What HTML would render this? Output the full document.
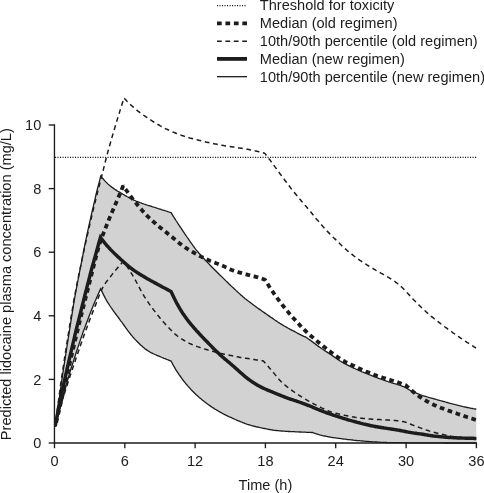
<!DOCTYPE html>
<html><head><meta charset="utf-8"><title>Predicted lidocaine plasma concentration</title>
<style>html,body{margin:0;padding:0;background:#fff}svg{display:block}text{font-family:"Liberation Sans",Arial,Helvetica,sans-serif;fill:#1c1c1c}</style></head><body>
<svg width="484" height="493" viewBox="0 0 484 493">
<rect width="484" height="493" fill="#fff"/>
<path d="M55.2,426.3 L56.2,419.3 L57.2,412.3 L58.2,405.4 L59.2,398.6 L60.2,391.8 L61.1,385.0 L62.1,378.3 L63.1,371.7 L64.1,365.1 L65.1,358.6 L66.1,352.1 L67.1,345.7 L68.1,339.3 L69.1,332.9 L70.1,326.5 L71.1,320.1 L72.1,313.9 L73.0,307.8 L74.0,301.8 L75.0,296.2 L76.0,290.6 L77.0,285.3 L78.0,280.0 L79.0,274.8 L80.0,269.7 L81.0,264.6 L82.0,259.6 L83.0,254.5 L83.9,249.6 L84.9,244.7 L85.9,239.9 L86.9,235.1 L87.9,230.4 L88.9,225.8 L89.9,221.3 L90.9,216.8 L91.9,212.4 L92.9,208.1 L93.9,203.8 L94.9,199.7 L95.8,195.5 L96.8,191.5 L97.8,187.5 L98.8,183.6 L99.8,179.8 L100.8,176.0 L101.8,177.3 L102.8,178.5 L103.8,179.7 L104.8,180.9 L105.8,181.9 L106.8,182.9 L107.8,183.9 L108.8,184.8 L109.8,185.6 L110.8,186.4 L111.8,187.1 L112.8,187.9 L113.8,188.6 L114.8,189.3 L115.8,189.9 L116.8,190.6 L117.8,191.2 L118.9,191.8 L119.9,192.4 L120.9,193.0 L121.9,193.6 L122.9,194.2 L123.9,194.8 L124.9,195.4 L125.9,195.9 L126.9,196.5 L127.9,197.0 L128.9,197.6 L129.9,198.1 L130.9,198.6 L131.9,199.1 L132.9,199.6 L133.9,200.1 L134.9,200.5 L135.9,201.0 L136.9,201.4 L137.9,201.8 L138.9,202.2 L139.9,202.6 L140.9,202.9 L141.9,203.3 L142.9,203.6 L143.9,204.0 L144.9,204.3 L145.9,204.6 L146.9,205.0 L147.9,205.3 L148.9,205.6 L149.9,205.9 L150.9,206.2 L151.9,206.6 L152.9,206.9 L154.0,207.2 L155.0,207.5 L156.0,207.8 L157.0,208.2 L158.0,208.5 L159.0,208.8 L160.0,209.1 L161.0,209.4 L162.0,209.8 L163.0,210.1 L164.0,210.4 L165.0,210.7 L166.0,211.0 L167.0,211.3 L168.0,211.7 L169.0,212.0 L170.0,212.3 L171.0,212.6 L172.0,214.2 L173.0,215.8 L174.0,217.4 L175.0,218.9 L176.0,220.5 L177.0,222.0 L178.0,223.6 L179.0,225.1 L180.0,226.6 L181.0,228.1 L182.0,229.6 L183.0,231.1 L184.0,232.6 L185.0,234.1 L186.0,235.5 L187.0,237.0 L188.0,238.5 L189.0,239.9 L190.0,241.4 L191.0,242.8 L192.0,244.2 L193.0,245.6 L194.0,246.9 L195.0,248.3 L196.0,249.6 L197.0,250.8 L198.0,252.0 L199.0,253.2 L200.0,254.3 L201.0,255.5 L202.0,256.6 L203.0,257.6 L204.0,258.7 L204.9,259.8 L205.9,260.8 L206.9,261.9 L207.9,262.9 L208.9,263.9 L209.9,265.0 L210.9,266.0 L211.9,267.0 L212.9,268.0 L213.9,269.0 L214.9,270.0 L215.9,271.0 L216.9,272.0 L217.9,273.0 L218.9,274.0 L219.9,275.0 L220.9,275.9 L221.9,276.9 L222.9,277.9 L223.9,278.9 L224.9,279.9 L225.9,280.9 L226.9,281.8 L227.9,282.8 L228.9,283.8 L229.9,284.7 L230.9,285.7 L231.9,286.6 L232.9,287.6 L233.9,288.5 L234.9,289.4 L235.9,290.4 L236.9,291.3 L237.9,292.2 L238.9,293.1 L239.9,294.1 L240.9,294.9 L241.9,295.8 L242.9,296.7 L243.9,297.5 L244.9,298.4 L245.9,299.2 L246.9,300.0 L247.9,300.8 L248.9,301.5 L249.9,302.3 L250.9,303.1 L251.9,303.8 L252.9,304.5 L253.9,305.3 L254.9,306.0 L255.9,306.7 L256.9,307.5 L257.9,308.2 L258.9,308.9 L259.9,309.6 L260.9,310.3 L261.9,311.0 L262.9,311.7 L263.9,312.4 L264.9,313.1 L265.9,313.8 L266.9,314.5 L267.9,315.2 L268.9,315.9 L269.9,316.6 L270.9,317.3 L271.9,317.9 L272.9,318.6 L273.8,319.3 L274.8,320.0 L275.8,320.6 L276.8,321.3 L277.8,322.0 L278.8,322.6 L279.8,323.3 L280.8,323.9 L281.8,324.5 L282.8,325.1 L283.8,325.7 L284.8,326.3 L285.8,326.8 L286.8,327.4 L287.8,328.0 L288.8,328.5 L289.8,329.1 L290.8,329.6 L291.8,330.1 L292.8,330.7 L293.8,331.2 L294.8,331.7 L295.8,332.2 L296.8,332.8 L297.8,333.3 L298.8,333.8 L299.8,334.3 L300.8,334.8 L301.8,335.3 L302.8,335.8 L303.8,336.3 L304.8,336.7 L305.8,337.2 L306.8,337.7 L307.8,338.4 L308.8,339.2 L309.8,339.9 L310.8,340.6 L311.8,341.4 L312.8,342.1 L313.8,342.9 L314.8,343.6 L315.8,344.4 L316.8,345.1 L317.8,345.9 L318.8,346.6 L319.8,347.3 L320.8,348.0 L321.8,348.7 L322.8,349.3 L323.8,350.0 L324.7,350.6 L325.7,351.3 L326.7,351.9 L327.7,352.6 L328.7,353.2 L329.7,353.9 L330.7,354.5 L331.7,355.2 L332.7,355.9 L333.7,356.6 L334.7,357.3 L335.7,358.0 L336.7,358.7 L337.7,359.4 L338.7,360.0 L339.7,360.7 L340.7,361.3 L341.7,362.0 L342.7,362.5 L343.7,363.1 L344.7,363.6 L345.7,364.1 L346.7,364.7 L347.7,365.2 L348.7,365.7 L349.7,366.2 L350.7,366.7 L351.7,367.1 L352.7,367.6 L353.7,368.1 L354.7,368.5 L355.7,369.0 L356.7,369.4 L357.7,369.8 L358.6,370.3 L359.6,370.7 L360.6,371.1 L361.6,371.6 L362.6,372.0 L363.6,372.4 L364.6,372.8 L365.6,373.2 L366.6,373.6 L367.6,374.0 L368.6,374.5 L369.6,374.9 L370.6,375.2 L371.6,375.6 L372.6,376.0 L373.6,376.4 L374.6,376.8 L375.6,377.2 L376.6,377.5 L377.6,377.9 L378.6,378.3 L379.6,378.6 L380.6,379.0 L381.6,379.4 L382.6,379.7 L383.6,380.1 L384.6,380.4 L385.6,380.8 L386.6,381.1 L387.6,381.5 L388.6,381.8 L389.6,382.2 L390.6,382.5 L391.6,382.8 L392.5,383.1 L393.5,383.4 L394.5,383.7 L395.5,383.9 L396.5,384.2 L397.5,384.6 L398.5,384.9 L399.5,385.2 L400.5,385.5 L401.5,385.9 L402.5,386.3 L403.5,386.7 L404.5,387.1 L405.5,387.6 L406.5,388.2 L407.5,388.8 L408.5,389.4 L409.5,390.0 L410.5,390.5 L411.5,391.0 L412.5,391.5 L413.5,391.9 L414.5,392.4 L415.5,392.8 L416.5,393.2 L417.5,393.6 L418.5,394.0 L419.5,394.4 L420.5,394.8 L421.5,395.1 L422.5,395.5 L423.5,395.8 L424.5,396.1 L425.5,396.4 L426.4,396.7 L427.4,397.0 L428.4,397.3 L429.4,397.6 L430.4,397.8 L431.4,398.1 L432.4,398.4 L433.4,398.7 L434.4,399.0 L435.4,399.2 L436.4,399.5 L437.4,399.8 L438.4,400.1 L439.4,400.4 L440.4,400.7 L441.4,400.9 L442.4,401.2 L443.4,401.5 L444.4,401.7 L445.4,402.0 L446.4,402.3 L447.4,402.5 L448.4,402.8 L449.4,403.1 L450.4,403.3 L451.4,403.6 L452.4,403.8 L453.4,404.1 L454.4,404.3 L455.4,404.6 L456.4,404.8 L457.4,405.1 L458.4,405.3 L459.4,405.6 L460.3,405.8 L461.3,406.1 L462.3,406.3 L463.3,406.6 L464.3,406.8 L465.3,407.0 L466.3,407.3 L467.3,407.5 L468.3,407.7 L469.3,407.9 L470.3,408.1 L471.3,408.3 L472.3,408.5 L473.3,408.7 L474.3,408.8 L475.3,409.0 L476.3,409.2 L476.3,443.0 L475.3,443.0 L474.3,443.0 L473.3,443.0 L472.3,443.0 L471.3,443.0 L470.3,443.0 L469.3,443.0 L468.3,443.0 L467.3,443.0 L466.3,443.0 L465.3,443.0 L464.3,443.0 L463.3,443.0 L462.3,443.0 L461.3,443.0 L460.3,443.0 L459.3,443.0 L458.3,443.0 L457.3,443.0 L456.3,443.0 L455.3,443.0 L454.3,443.0 L453.3,443.0 L452.3,443.0 L451.3,443.0 L450.3,443.0 L449.3,443.0 L448.3,443.0 L447.3,443.0 L446.3,443.0 L445.3,443.0 L444.3,443.0 L443.3,442.9 L442.3,442.9 L441.3,442.9 L440.3,442.9 L439.3,442.9 L438.3,442.9 L437.3,442.9 L436.3,442.9 L435.4,442.9 L434.4,442.9 L433.4,442.9 L432.4,442.9 L431.4,442.9 L430.4,442.9 L429.4,442.9 L428.4,442.9 L427.4,442.9 L426.4,442.9 L425.4,442.9 L424.4,442.9 L423.4,442.9 L422.4,442.9 L421.4,442.9 L420.4,442.8 L419.4,442.8 L418.4,442.8 L417.4,442.8 L416.4,442.8 L415.4,442.8 L414.4,442.8 L413.4,442.8 L412.4,442.8 L411.4,442.8 L410.4,442.8 L409.4,442.8 L408.4,442.8 L407.4,442.8 L406.4,442.7 L405.4,442.7 L404.4,442.7 L403.4,442.7 L402.4,442.7 L401.4,442.7 L400.4,442.7 L399.4,442.7 L398.4,442.7 L397.4,442.7 L396.4,442.7 L395.4,442.7 L394.4,442.6 L393.4,442.6 L392.4,442.6 L391.4,442.6 L390.4,442.6 L389.4,442.6 L388.4,442.6 L387.4,442.6 L386.4,442.5 L385.4,442.5 L384.4,442.4 L383.4,442.4 L382.4,442.4 L381.4,442.3 L380.4,442.3 L379.4,442.2 L378.4,442.1 L377.4,442.1 L376.4,442.0 L375.4,442.0 L374.4,441.9 L373.4,441.9 L372.4,441.8 L371.4,441.7 L370.4,441.7 L369.4,441.6 L368.4,441.5 L367.4,441.4 L366.4,441.3 L365.4,441.3 L364.4,441.2 L363.4,441.1 L362.4,441.0 L361.4,440.9 L360.4,440.8 L359.4,440.7 L358.4,440.7 L357.4,440.6 L356.4,440.5 L355.4,440.4 L354.4,440.3 L353.4,440.2 L352.5,440.0 L351.5,439.9 L350.5,439.8 L349.5,439.7 L348.5,439.6 L347.5,439.5 L346.5,439.3 L345.5,439.2 L344.5,439.1 L343.5,439.0 L342.5,438.8 L341.5,438.7 L340.5,438.6 L339.5,438.4 L338.5,438.3 L337.5,438.2 L336.5,438.1 L335.5,437.9 L334.5,437.8 L333.5,437.6 L332.5,437.5 L331.5,437.3 L330.5,437.2 L329.5,437.0 L328.5,436.8 L327.5,436.6 L326.5,436.4 L325.5,436.2 L324.5,436.0 L323.5,435.8 L322.5,435.6 L321.5,435.3 L320.5,435.1 L319.5,434.8 L318.5,434.5 L317.5,434.2 L316.5,433.9 L315.5,433.6 L314.5,433.2 L313.5,432.9 L312.5,432.5 L311.5,432.5 L310.5,432.4 L309.5,432.4 L308.5,432.3 L307.5,432.3 L306.5,432.3 L305.5,432.2 L304.5,432.2 L303.5,432.1 L302.5,432.1 L301.5,432.1 L300.5,432.0 L299.5,432.0 L298.5,431.9 L297.5,431.9 L296.5,431.8 L295.5,431.8 L294.4,431.7 L293.4,431.7 L292.4,431.7 L291.4,431.6 L290.4,431.6 L289.4,431.5 L288.4,431.5 L287.4,431.4 L286.4,431.3 L285.4,431.3 L284.4,431.2 L283.4,431.1 L282.4,431.1 L281.4,431.0 L280.4,430.9 L279.4,430.8 L278.4,430.7 L277.4,430.6 L276.4,430.5 L275.4,430.4 L274.4,430.3 L273.4,430.2 L272.4,430.0 L271.4,429.9 L270.4,429.7 L269.4,429.5 L268.4,429.3 L267.4,429.1 L266.4,428.9 L265.4,428.7 L264.4,428.5 L263.4,428.3 L262.4,428.1 L261.4,427.9 L260.4,427.7 L259.3,427.4 L258.3,427.2 L257.3,427.0 L256.3,426.8 L255.3,426.5 L254.3,426.3 L253.3,426.0 L252.3,425.8 L251.3,425.5 L250.3,425.2 L249.3,424.9 L248.3,424.6 L247.3,424.3 L246.3,423.9 L245.3,423.6 L244.3,423.2 L243.3,422.8 L242.3,422.4 L241.3,422.0 L240.3,421.6 L239.3,421.2 L238.3,420.8 L237.3,420.4 L236.3,419.9 L235.3,419.5 L234.3,419.0 L233.3,418.6 L232.3,418.2 L231.3,417.7 L230.3,417.2 L229.3,416.8 L228.3,416.3 L227.3,415.8 L226.3,415.3 L225.3,414.8 L224.3,414.3 L223.2,413.8 L222.2,413.2 L221.2,412.7 L220.2,412.1 L219.2,411.6 L218.2,411.0 L217.2,410.4 L216.2,409.8 L215.2,409.2 L214.2,408.6 L213.2,407.9 L212.2,407.3 L211.2,406.6 L210.2,405.9 L209.2,405.2 L208.2,404.5 L207.2,403.8 L206.2,403.0 L205.2,402.3 L204.2,401.5 L203.2,400.7 L202.2,399.9 L201.2,399.1 L200.2,398.2 L199.2,397.4 L198.2,396.5 L197.2,395.6 L196.2,394.7 L195.2,393.7 L194.2,392.7 L193.2,391.7 L192.2,390.7 L191.2,389.7 L190.2,388.6 L189.2,387.5 L188.1,386.4 L187.1,385.2 L186.1,384.0 L185.1,382.7 L184.1,381.5 L183.1,380.2 L182.1,378.8 L181.1,377.4 L180.1,376.0 L179.1,374.6 L178.1,373.1 L177.1,371.6 L176.1,370.1 L175.1,368.4 L174.1,366.7 L173.1,364.9 L172.1,363.0 L171.1,361.1 L170.1,360.7 L169.1,360.3 L168.1,359.9 L167.1,359.5 L166.1,359.1 L165.1,358.7 L164.0,358.3 L163.0,357.9 L162.0,357.5 L161.0,357.0 L160.0,356.6 L159.0,356.2 L158.0,355.8 L157.0,355.4 L156.0,354.9 L155.0,354.5 L154.0,354.0 L153.0,353.6 L152.0,353.1 L151.0,352.6 L149.9,352.0 L148.9,351.4 L147.9,350.8 L146.9,350.1 L145.9,349.4 L144.9,348.7 L143.9,347.8 L142.9,347.0 L141.9,346.1 L140.9,345.2 L139.9,344.2 L138.9,343.2 L137.9,342.2 L136.9,341.2 L135.8,340.1 L134.8,339.1 L133.8,338.0 L132.8,336.9 L131.8,335.7 L130.8,334.5 L129.8,333.2 L128.8,331.9 L127.8,330.6 L126.8,329.2 L125.8,327.8 L124.8,326.4 L123.8,325.0 L122.8,323.6 L121.8,322.2 L120.7,320.8 L119.7,319.4 L118.7,318.0 L117.7,316.7 L116.7,315.4 L115.7,314.0 L114.7,312.7 L113.7,311.3 L112.7,309.9 L111.7,308.5 L110.7,307.0 L109.7,305.5 L108.7,303.9 L107.6,302.3 L106.6,300.6 L105.6,298.8 L104.6,296.9 L103.6,294.9 L102.6,292.9 L101.6,290.8 L100.6,288.7 L99.6,290.9 L98.6,293.2 L97.6,295.5 L96.6,297.8 L95.6,300.2 L94.5,302.6 L93.5,305.0 L92.5,307.5 L91.5,310.0 L90.5,312.5 L89.5,315.1 L88.5,317.7 L87.5,320.4 L86.5,323.1 L85.5,325.8 L84.5,328.5 L83.4,331.3 L82.4,334.1 L81.4,337.0 L80.4,339.9 L79.4,342.9 L78.4,345.9 L77.4,348.9 L76.4,352.0 L75.4,355.1 L74.4,358.3 L73.4,361.4 L72.4,364.6 L71.3,367.8 L70.3,371.1 L69.3,374.4 L68.3,377.7 L67.3,381.0 L66.3,384.4 L65.3,387.7 L64.3,391.1 L63.3,394.6 L62.3,398.2 L61.3,401.8 L60.2,405.6 L59.2,409.6 L58.2,413.6 L57.2,417.7 L56.2,422.0 L55.2,426.3Z" fill="#d2d2d2" stroke="none"/>
<line x1="55" y1="157.4" x2="476.8" y2="157.4" stroke="#1c1c1c" stroke-width="1.4" stroke-dasharray="1.1 1.4"/>
<clipPath id="plot"><rect x="54.45" y="60" width="425" height="384"/></clipPath>
<g fill="none" stroke="#1c1c1c" stroke-linejoin="miter" stroke-miterlimit="8" clip-path="url(#plot)">
<path d="M55.2,426.3 L56.2,419.3 L57.2,412.3 L58.2,405.4 L59.2,398.6 L60.2,391.8 L61.1,385.0 L62.1,378.3 L63.1,371.7 L64.1,365.1 L65.1,358.6 L66.1,352.1 L67.1,345.7 L68.1,339.3 L69.1,332.9 L70.1,326.5 L71.1,320.1 L72.1,313.9 L73.0,307.8 L74.0,301.8 L75.0,296.2 L76.0,290.6 L77.0,285.3 L78.0,280.0 L79.0,274.8 L80.0,269.7 L81.0,264.6 L82.0,259.6 L83.0,254.5 L83.9,249.6 L84.9,244.7 L85.9,239.9 L86.9,235.1 L87.9,230.4 L88.9,225.8 L89.9,221.3 L90.9,216.8 L91.9,212.4 L92.9,208.1 L93.9,203.8 L94.9,199.7 L95.8,195.5 L96.8,191.5 L97.8,187.5 L98.8,183.6 L99.8,179.8 L100.8,176.0 L101.8,177.3 L102.8,178.5 L103.8,179.7 L104.8,180.9 L105.8,181.9 L106.8,182.9 L107.8,183.9 L108.8,184.8 L109.8,185.6 L110.8,186.4 L111.8,187.1 L112.8,187.9 L113.8,188.6 L114.8,189.3 L115.8,189.9 L116.8,190.6 L117.8,191.2 L118.9,191.8 L119.9,192.4 L120.9,193.0 L121.9,193.6 L122.9,194.2 L123.9,194.8 L124.9,195.4 L125.9,195.9 L126.9,196.5 L127.9,197.0 L128.9,197.6 L129.9,198.1 L130.9,198.6 L131.9,199.1 L132.9,199.6 L133.9,200.1 L134.9,200.5 L135.9,201.0 L136.9,201.4 L137.9,201.8 L138.9,202.2 L139.9,202.6 L140.9,202.9 L141.9,203.3 L142.9,203.6 L143.9,204.0 L144.9,204.3 L145.9,204.6 L146.9,205.0 L147.9,205.3 L148.9,205.6 L149.9,205.9 L150.9,206.2 L151.9,206.6 L152.9,206.9 L154.0,207.2 L155.0,207.5 L156.0,207.8 L157.0,208.2 L158.0,208.5 L159.0,208.8 L160.0,209.1 L161.0,209.4 L162.0,209.8 L163.0,210.1 L164.0,210.4 L165.0,210.7 L166.0,211.0 L167.0,211.3 L168.0,211.7 L169.0,212.0 L170.0,212.3 L171.0,212.6 L172.0,214.2 L173.0,215.8 L174.0,217.4 L175.0,218.9 L176.0,220.5 L177.0,222.0 L178.0,223.6 L179.0,225.1 L180.0,226.6 L181.0,228.1 L182.0,229.6 L183.0,231.1 L184.0,232.6 L185.0,234.1 L186.0,235.5 L187.0,237.0 L188.0,238.5 L189.0,239.9 L190.0,241.4 L191.0,242.8 L192.0,244.2 L193.0,245.6 L194.0,246.9 L195.0,248.3 L196.0,249.6 L197.0,250.8 L198.0,252.0 L199.0,253.2 L200.0,254.3 L201.0,255.5 L202.0,256.6 L203.0,257.6 L204.0,258.7 L204.9,259.8 L205.9,260.8 L206.9,261.9 L207.9,262.9 L208.9,263.9 L209.9,265.0 L210.9,266.0 L211.9,267.0 L212.9,268.0 L213.9,269.0 L214.9,270.0 L215.9,271.0 L216.9,272.0 L217.9,273.0 L218.9,274.0 L219.9,275.0 L220.9,275.9 L221.9,276.9 L222.9,277.9 L223.9,278.9 L224.9,279.9 L225.9,280.9 L226.9,281.8 L227.9,282.8 L228.9,283.8 L229.9,284.7 L230.9,285.7 L231.9,286.6 L232.9,287.6 L233.9,288.5 L234.9,289.4 L235.9,290.4 L236.9,291.3 L237.9,292.2 L238.9,293.1 L239.9,294.1 L240.9,294.9 L241.9,295.8 L242.9,296.7 L243.9,297.5 L244.9,298.4 L245.9,299.2 L246.9,300.0 L247.9,300.8 L248.9,301.5 L249.9,302.3 L250.9,303.1 L251.9,303.8 L252.9,304.5 L253.9,305.3 L254.9,306.0 L255.9,306.7 L256.9,307.5 L257.9,308.2 L258.9,308.9 L259.9,309.6 L260.9,310.3 L261.9,311.0 L262.9,311.7 L263.9,312.4 L264.9,313.1 L265.9,313.8 L266.9,314.5 L267.9,315.2 L268.9,315.9 L269.9,316.6 L270.9,317.3 L271.9,317.9 L272.9,318.6 L273.8,319.3 L274.8,320.0 L275.8,320.6 L276.8,321.3 L277.8,322.0 L278.8,322.6 L279.8,323.3 L280.8,323.9 L281.8,324.5 L282.8,325.1 L283.8,325.7 L284.8,326.3 L285.8,326.8 L286.8,327.4 L287.8,328.0 L288.8,328.5 L289.8,329.1 L290.8,329.6 L291.8,330.1 L292.8,330.7 L293.8,331.2 L294.8,331.7 L295.8,332.2 L296.8,332.8 L297.8,333.3 L298.8,333.8 L299.8,334.3 L300.8,334.8 L301.8,335.3 L302.8,335.8 L303.8,336.3 L304.8,336.7 L305.8,337.2 L306.8,337.7 L307.8,338.4 L308.8,339.2 L309.8,339.9 L310.8,340.6 L311.8,341.4 L312.8,342.1 L313.8,342.9 L314.8,343.6 L315.8,344.4 L316.8,345.1 L317.8,345.9 L318.8,346.6 L319.8,347.3 L320.8,348.0 L321.8,348.7 L322.8,349.3 L323.8,350.0 L324.7,350.6 L325.7,351.3 L326.7,351.9 L327.7,352.6 L328.7,353.2 L329.7,353.9 L330.7,354.5 L331.7,355.2 L332.7,355.9 L333.7,356.6 L334.7,357.3 L335.7,358.0 L336.7,358.7 L337.7,359.4 L338.7,360.0 L339.7,360.7 L340.7,361.3 L341.7,362.0 L342.7,362.5 L343.7,363.1 L344.7,363.6 L345.7,364.1 L346.7,364.7 L347.7,365.2 L348.7,365.7 L349.7,366.2 L350.7,366.7 L351.7,367.1 L352.7,367.6 L353.7,368.1 L354.7,368.5 L355.7,369.0 L356.7,369.4 L357.7,369.8 L358.6,370.3 L359.6,370.7 L360.6,371.1 L361.6,371.6 L362.6,372.0 L363.6,372.4 L364.6,372.8 L365.6,373.2 L366.6,373.6 L367.6,374.0 L368.6,374.5 L369.6,374.9 L370.6,375.2 L371.6,375.6 L372.6,376.0 L373.6,376.4 L374.6,376.8 L375.6,377.2 L376.6,377.5 L377.6,377.9 L378.6,378.3 L379.6,378.6 L380.6,379.0 L381.6,379.4 L382.6,379.7 L383.6,380.1 L384.6,380.4 L385.6,380.8 L386.6,381.1 L387.6,381.5 L388.6,381.8 L389.6,382.2 L390.6,382.5 L391.6,382.8 L392.5,383.1 L393.5,383.4 L394.5,383.7 L395.5,383.9 L396.5,384.2 L397.5,384.6 L398.5,384.9 L399.5,385.2 L400.5,385.5 L401.5,385.9 L402.5,386.3 L403.5,386.7 L404.5,387.1 L405.5,387.6 L406.5,388.2 L407.5,388.8 L408.5,389.4 L409.5,390.0 L410.5,390.5 L411.5,391.0 L412.5,391.5 L413.5,391.9 L414.5,392.4 L415.5,392.8 L416.5,393.2 L417.5,393.6 L418.5,394.0 L419.5,394.4 L420.5,394.8 L421.5,395.1 L422.5,395.5 L423.5,395.8 L424.5,396.1 L425.5,396.4 L426.4,396.7 L427.4,397.0 L428.4,397.3 L429.4,397.6 L430.4,397.8 L431.4,398.1 L432.4,398.4 L433.4,398.7 L434.4,399.0 L435.4,399.2 L436.4,399.5 L437.4,399.8 L438.4,400.1 L439.4,400.4 L440.4,400.7 L441.4,400.9 L442.4,401.2 L443.4,401.5 L444.4,401.7 L445.4,402.0 L446.4,402.3 L447.4,402.5 L448.4,402.8 L449.4,403.1 L450.4,403.3 L451.4,403.6 L452.4,403.8 L453.4,404.1 L454.4,404.3 L455.4,404.6 L456.4,404.8 L457.4,405.1 L458.4,405.3 L459.4,405.6 L460.3,405.8 L461.3,406.1 L462.3,406.3 L463.3,406.6 L464.3,406.8 L465.3,407.0 L466.3,407.3 L467.3,407.5 L468.3,407.7 L469.3,407.9 L470.3,408.1 L471.3,408.3 L472.3,408.5 L473.3,408.7 L474.3,408.8 L475.3,409.0 L476.3,409.2" stroke-width="1.3"/>
<path d="M55.2,426.3 L56.2,422.0 L57.2,417.7 L58.2,413.6 L59.2,409.6 L60.2,405.6 L61.3,401.8 L62.3,398.2 L63.3,394.6 L64.3,391.1 L65.3,387.7 L66.3,384.4 L67.3,381.0 L68.3,377.7 L69.3,374.4 L70.3,371.1 L71.3,367.8 L72.4,364.6 L73.4,361.4 L74.4,358.3 L75.4,355.1 L76.4,352.0 L77.4,348.9 L78.4,345.9 L79.4,342.9 L80.4,339.9 L81.4,337.0 L82.4,334.1 L83.4,331.3 L84.5,328.5 L85.5,325.8 L86.5,323.1 L87.5,320.4 L88.5,317.7 L89.5,315.1 L90.5,312.5 L91.5,310.0 L92.5,307.5 L93.5,305.0 L94.5,302.6 L95.6,300.2 L96.6,297.8 L97.6,295.5 L98.6,293.2 L99.6,290.9 L100.6,288.7 L101.6,290.8 L102.6,292.9 L103.6,294.9 L104.6,296.9 L105.6,298.8 L106.6,300.6 L107.6,302.3 L108.7,303.9 L109.7,305.5 L110.7,307.0 L111.7,308.5 L112.7,309.9 L113.7,311.3 L114.7,312.7 L115.7,314.0 L116.7,315.4 L117.7,316.7 L118.7,318.0 L119.7,319.4 L120.7,320.8 L121.8,322.2 L122.8,323.6 L123.8,325.0 L124.8,326.4 L125.8,327.8 L126.8,329.2 L127.8,330.6 L128.8,331.9 L129.8,333.2 L130.8,334.5 L131.8,335.7 L132.8,336.9 L133.8,338.0 L134.8,339.1 L135.8,340.1 L136.9,341.2 L137.9,342.2 L138.9,343.2 L139.9,344.2 L140.9,345.2 L141.9,346.1 L142.9,347.0 L143.9,347.8 L144.9,348.7 L145.9,349.4 L146.9,350.1 L147.9,350.8 L148.9,351.4 L149.9,352.0 L151.0,352.6 L152.0,353.1 L153.0,353.6 L154.0,354.0 L155.0,354.5 L156.0,354.9 L157.0,355.4 L158.0,355.8 L159.0,356.2 L160.0,356.6 L161.0,357.0 L162.0,357.5 L163.0,357.9 L164.0,358.3 L165.1,358.7 L166.1,359.1 L167.1,359.5 L168.1,359.9 L169.1,360.3 L170.1,360.7 L171.1,361.1 L172.1,363.0 L173.1,364.9 L174.1,366.7 L175.1,368.4 L176.1,370.1 L177.1,371.6 L178.1,373.1 L179.1,374.6 L180.1,376.0 L181.1,377.4 L182.1,378.8 L183.1,380.2 L184.1,381.5 L185.1,382.7 L186.1,384.0 L187.1,385.2 L188.1,386.4 L189.2,387.5 L190.2,388.6 L191.2,389.7 L192.2,390.7 L193.2,391.7 L194.2,392.7 L195.2,393.7 L196.2,394.7 L197.2,395.6 L198.2,396.5 L199.2,397.4 L200.2,398.2 L201.2,399.1 L202.2,399.9 L203.2,400.7 L204.2,401.5 L205.2,402.3 L206.2,403.0 L207.2,403.8 L208.2,404.5 L209.2,405.2 L210.2,405.9 L211.2,406.6 L212.2,407.3 L213.2,407.9 L214.2,408.6 L215.2,409.2 L216.2,409.8 L217.2,410.4 L218.2,411.0 L219.2,411.6 L220.2,412.1 L221.2,412.7 L222.2,413.2 L223.2,413.8 L224.3,414.3 L225.3,414.8 L226.3,415.3 L227.3,415.8 L228.3,416.3 L229.3,416.8 L230.3,417.2 L231.3,417.7 L232.3,418.2 L233.3,418.6 L234.3,419.0 L235.3,419.5 L236.3,419.9 L237.3,420.4 L238.3,420.8 L239.3,421.2 L240.3,421.6 L241.3,422.0 L242.3,422.4 L243.3,422.8 L244.3,423.2 L245.3,423.6 L246.3,423.9 L247.3,424.3 L248.3,424.6 L249.3,424.9 L250.3,425.2 L251.3,425.5 L252.3,425.8 L253.3,426.0 L254.3,426.3 L255.3,426.5 L256.3,426.8 L257.3,427.0 L258.3,427.2 L259.3,427.4 L260.4,427.7 L261.4,427.9 L262.4,428.1 L263.4,428.3 L264.4,428.5 L265.4,428.7 L266.4,428.9 L267.4,429.1 L268.4,429.3 L269.4,429.5 L270.4,429.7 L271.4,429.9 L272.4,430.0 L273.4,430.2 L274.4,430.3 L275.4,430.4 L276.4,430.5 L277.4,430.6 L278.4,430.7 L279.4,430.8 L280.4,430.9 L281.4,431.0 L282.4,431.1 L283.4,431.1 L284.4,431.2 L285.4,431.3 L286.4,431.3 L287.4,431.4 L288.4,431.5 L289.4,431.5 L290.4,431.6 L291.4,431.6 L292.4,431.7 L293.4,431.7 L294.4,431.7 L295.5,431.8 L296.5,431.8 L297.5,431.9 L298.5,431.9 L299.5,432.0 L300.5,432.0 L301.5,432.1 L302.5,432.1 L303.5,432.1 L304.5,432.2 L305.5,432.2 L306.5,432.3 L307.5,432.3 L308.5,432.3 L309.5,432.4 L310.5,432.4 L311.5,432.5 L312.5,432.5 L313.5,432.9 L314.5,433.2 L315.5,433.6 L316.5,433.9 L317.5,434.2 L318.5,434.5 L319.5,434.8 L320.5,435.1 L321.5,435.3 L322.5,435.6 L323.5,435.8 L324.5,436.0 L325.5,436.2 L326.5,436.4 L327.5,436.6 L328.5,436.8 L329.5,437.0 L330.5,437.2 L331.5,437.3 L332.5,437.5 L333.5,437.6 L334.5,437.8 L335.5,437.9 L336.5,438.1 L337.5,438.2 L338.5,438.3 L339.5,438.4 L340.5,438.6 L341.5,438.7 L342.5,438.8 L343.5,439.0 L344.5,439.1 L345.5,439.2 L346.5,439.3 L347.5,439.5 L348.5,439.6 L349.5,439.7 L350.5,439.8 L351.5,439.9 L352.5,440.0 L353.4,440.2 L354.4,440.3 L355.4,440.4 L356.4,440.5 L357.4,440.6 L358.4,440.7 L359.4,440.7 L360.4,440.8 L361.4,440.9 L362.4,441.0 L363.4,441.1 L364.4,441.2 L365.4,441.3 L366.4,441.3 L367.4,441.4 L368.4,441.5 L369.4,441.6 L370.4,441.7 L371.4,441.7 L372.4,441.8 L373.4,441.9 L374.4,441.9 L375.4,442.0 L376.4,442.0 L377.4,442.1 L378.4,442.1 L379.4,442.2 L380.4,442.3 L381.4,442.3 L382.4,442.4 L383.4,442.4 L384.4,442.4 L385.4,442.5 L386.4,442.5 L387.4,442.6 L388.4,442.6 L389.4,442.6 L390.4,442.6 L391.4,442.6 L392.4,442.6 L393.4,442.6 L394.4,442.6 L395.4,442.7 L396.4,442.7 L397.4,442.7 L398.4,442.7 L399.4,442.7 L400.4,442.7 L401.4,442.7 L402.4,442.7 L403.4,442.7 L404.4,442.7 L405.4,442.7 L406.4,442.7 L407.4,442.8 L408.4,442.8 L409.4,442.8 L410.4,442.8 L411.4,442.8 L412.4,442.8 L413.4,442.8 L414.4,442.8 L415.4,442.8 L416.4,442.8 L417.4,442.8 L418.4,442.8 L419.4,442.8 L420.4,442.8 L421.4,442.9 L422.4,442.9 L423.4,442.9 L424.4,442.9 L425.4,442.9 L426.4,442.9 L427.4,442.9 L428.4,442.9 L429.4,442.9 L430.4,442.9 L431.4,442.9 L432.4,442.9 L433.4,442.9 L434.4,442.9 L435.4,442.9 L436.3,442.9 L437.3,442.9 L438.3,442.9 L439.3,442.9 L440.3,442.9 L441.3,442.9 L442.3,442.9 L443.3,442.9 L444.3,443.0 L445.3,443.0 L446.3,443.0 L447.3,443.0 L448.3,443.0 L449.3,443.0 L450.3,443.0 L451.3,443.0 L452.3,443.0 L453.3,443.0 L454.3,443.0 L455.3,443.0 L456.3,443.0 L457.3,443.0 L458.3,443.0 L459.3,443.0 L460.3,443.0 L461.3,443.0 L462.3,443.0 L463.3,443.0 L464.3,443.0 L465.3,443.0 L466.3,443.0 L467.3,443.0 L468.3,443.0 L469.3,443.0 L470.3,443.0 L471.3,443.0 L472.3,443.0 L473.3,443.0 L474.3,443.0 L475.3,443.0 L476.3,443.0" stroke-width="1.3"/>
<path d="M55.2,426.3 L56.2,418.3 L57.2,410.4 L58.2,402.7 L59.2,395.2 L60.2,387.9 L61.2,380.7 L62.2,373.8 L63.2,367.1 L64.2,360.5 L65.2,354.0 L66.2,347.6 L67.2,341.3 L68.2,335.0 L69.2,328.7 L70.2,322.5 L71.2,316.3 L72.2,310.3 L73.1,304.5 L74.1,299.0 L75.1,293.6 L76.1,288.4 L77.1,283.3 L78.1,278.4 L79.1,273.5 L80.1,268.7 L81.1,263.9 L82.1,259.2 L83.1,254.5 L84.1,249.9 L85.1,245.3 L86.1,240.8 L87.1,236.3 L88.1,231.9 L89.1,227.5 L90.1,223.1 L91.1,218.8 L92.1,214.6 L93.1,210.3 L94.1,206.2 L95.1,202.1 L96.1,198.0 L97.1,194.1 L98.1,190.1 L99.1,186.3 L100.1,182.4 L101.1,178.5 L102.1,174.6 L103.1,170.6 L104.1,166.6 L105.1,162.6 L106.1,158.8 L107.0,155.0 L108.0,151.4 L109.0,147.8 L110.0,144.3 L111.0,140.8 L112.0,137.3 L113.0,133.9 L114.0,130.5 L115.0,127.1 L116.0,123.8 L117.0,120.4 L118.0,117.1 L119.0,113.9 L120.0,110.6 L121.0,107.4 L122.0,104.3 L123.0,101.1 L124.0,98.0 L125.0,99.1 L126.0,100.1 L127.0,101.2 L128.0,102.2 L129.0,103.2 L130.0,104.1 L131.0,105.1 L132.0,106.0 L133.0,106.9 L134.0,107.8 L135.0,108.7 L136.0,109.5 L137.0,110.3 L138.0,111.1 L139.0,111.8 L140.0,112.6 L141.0,113.3 L142.0,114.1 L143.0,114.8 L144.0,115.5 L145.0,116.2 L146.0,116.9 L147.0,117.5 L148.0,118.2 L149.0,118.9 L150.0,119.5 L151.0,120.2 L152.0,120.8 L153.0,121.5 L154.0,122.1 L155.0,122.7 L156.0,123.3 L157.0,123.9 L158.0,124.5 L159.0,125.0 L159.9,125.6 L160.9,126.1 L161.9,126.7 L162.9,127.2 L163.9,127.7 L164.9,128.3 L165.9,128.8 L166.9,129.3 L167.9,129.7 L168.9,130.2 L169.9,130.7 L170.9,131.1 L171.9,131.6 L172.9,132.0 L173.9,132.4 L174.9,132.8 L175.9,133.2 L176.9,133.6 L177.9,134.0 L178.9,134.4 L179.9,134.8 L180.9,135.1 L181.9,135.5 L182.9,135.8 L183.9,136.1 L184.9,136.5 L185.9,136.8 L186.9,137.1 L187.9,137.4 L188.9,137.7 L189.9,138.0 L190.9,138.2 L191.9,138.5 L192.9,138.8 L193.9,139.0 L194.9,139.3 L195.9,139.6 L196.9,139.8 L197.9,140.1 L198.9,140.3 L199.9,140.6 L200.9,140.8 L201.9,141.1 L202.9,141.3 L203.9,141.5 L204.9,141.7 L205.9,142.0 L206.9,142.2 L207.9,142.4 L208.9,142.6 L209.9,142.8 L210.9,143.1 L211.9,143.3 L212.9,143.5 L213.9,143.7 L214.9,143.9 L215.9,144.1 L216.9,144.3 L217.9,144.5 L218.9,144.7 L219.9,144.9 L220.9,145.1 L221.9,145.2 L222.9,145.4 L223.9,145.6 L224.9,145.7 L225.9,145.9 L226.9,146.1 L227.9,146.2 L228.9,146.4 L229.8,146.5 L230.8,146.7 L231.8,146.8 L232.8,147.0 L233.8,147.1 L234.8,147.3 L235.8,147.4 L236.8,147.6 L237.8,147.7 L238.8,147.9 L239.8,148.0 L240.8,148.2 L241.8,148.3 L242.8,148.5 L243.8,148.6 L244.8,148.8 L245.8,149.0 L246.8,149.2 L247.8,149.3 L248.8,149.5 L249.8,149.7 L250.8,149.9 L251.8,150.1 L252.8,150.3 L253.8,150.5 L254.8,150.8 L255.8,151.0 L256.8,151.2 L257.8,151.4 L258.8,151.7 L259.8,151.9 L260.8,152.2 L261.8,152.5 L262.8,152.7 L263.8,153.0 L264.8,153.3 L265.8,154.6 L266.8,155.9 L267.8,157.1 L268.8,158.5 L269.8,159.8 L270.8,161.1 L271.8,162.5 L272.8,163.8 L273.8,165.2 L274.8,166.6 L275.8,167.9 L276.8,169.3 L277.8,170.7 L278.8,172.1 L279.8,173.5 L280.8,174.8 L281.8,176.2 L282.8,177.5 L283.8,178.8 L284.8,180.2 L285.8,181.5 L286.8,182.8 L287.8,184.1 L288.8,185.5 L289.8,186.8 L290.8,188.1 L291.8,189.4 L292.8,190.6 L293.8,191.9 L294.8,193.1 L295.8,194.3 L296.8,195.5 L297.8,196.7 L298.8,197.9 L299.8,199.1 L300.8,200.2 L301.8,201.4 L302.8,202.5 L303.8,203.7 L304.8,204.9 L305.8,206.1 L306.8,207.2 L307.8,208.5 L308.8,209.7 L309.8,210.9 L310.8,212.1 L311.8,213.3 L312.8,214.5 L313.8,215.7 L314.8,216.9 L315.8,218.2 L316.8,219.4 L317.9,220.6 L318.9,221.8 L319.9,223.0 L320.9,224.1 L321.9,225.3 L322.9,226.4 L323.9,227.6 L324.9,228.7 L325.9,229.7 L326.9,230.8 L327.9,231.9 L328.9,232.9 L329.9,233.9 L330.9,235.0 L331.9,236.0 L332.9,237.0 L333.9,238.0 L334.9,238.9 L335.9,239.9 L336.9,240.9 L337.9,241.8 L338.9,242.8 L339.9,243.8 L340.9,244.7 L341.9,245.7 L342.9,246.6 L343.9,247.6 L344.9,248.5 L345.9,249.4 L346.9,250.3 L347.9,251.2 L348.9,252.0 L349.9,252.8 L350.9,253.6 L351.9,254.4 L352.9,255.2 L353.9,256.0 L354.9,256.7 L355.9,257.4 L356.9,258.2 L357.9,258.9 L358.9,259.6 L359.9,260.3 L360.9,260.9 L361.9,261.6 L362.9,262.3 L363.9,263.0 L364.9,263.6 L365.9,264.2 L366.9,264.9 L367.9,265.5 L368.9,266.1 L369.9,266.7 L370.9,267.3 L371.9,267.9 L372.9,268.5 L373.9,269.1 L374.9,269.7 L375.9,270.3 L376.9,270.8 L377.9,271.4 L378.9,272.0 L379.9,272.5 L380.9,273.1 L381.9,273.6 L382.9,274.2 L383.9,274.7 L384.9,275.3 L385.9,275.9 L386.9,276.5 L387.9,277.1 L388.9,277.7 L389.9,278.3 L390.9,278.9 L391.9,279.5 L392.9,280.2 L393.9,280.8 L394.9,281.5 L395.9,282.3 L396.9,283.0 L397.9,283.8 L398.9,284.6 L399.9,285.5 L400.9,286.4 L401.9,287.3 L402.9,288.3 L403.9,289.3 L404.9,290.4 L405.9,291.4 L406.9,292.5 L407.9,293.6 L408.9,294.6 L409.9,295.7 L410.9,296.8 L411.9,297.9 L412.9,298.9 L413.9,300.0 L414.9,301.0 L415.9,302.0 L416.9,303.0 L417.9,304.0 L418.9,305.0 L419.9,306.0 L420.9,307.0 L421.9,308.0 L422.9,309.0 L424.0,309.9 L425.0,310.8 L426.0,311.8 L427.0,312.6 L428.0,313.5 L429.0,314.4 L430.0,315.2 L431.0,316.1 L432.0,316.9 L433.0,317.7 L434.0,318.5 L435.0,319.3 L436.0,320.1 L437.0,320.9 L438.0,321.7 L439.0,322.4 L440.0,323.2 L441.0,324.0 L442.0,324.7 L443.0,325.5 L444.0,326.2 L445.0,327.0 L446.0,327.7 L447.0,328.4 L448.0,329.2 L449.0,329.9 L450.0,330.6 L451.0,331.3 L452.0,332.0 L453.0,332.8 L454.0,333.5 L455.0,334.2 L456.0,334.9 L457.0,335.6 L458.0,336.3 L459.0,336.9 L460.0,337.6 L461.0,338.3 L462.0,339.0 L463.0,339.7 L464.0,340.3 L465.0,341.0 L466.0,341.6 L467.0,342.3 L468.0,342.9 L469.0,343.6 L470.0,344.2 L471.0,344.9 L472.0,345.5 L473.0,346.1 L474.0,346.8 L475.0,347.4 L476.0,348.0" stroke-width="1.5" stroke-dasharray="4.8 3.655" stroke-dashoffset="1.86"/>
<path d="M55.2,426.3 L56.2,422.4 L57.2,418.6 L58.2,414.8 L59.2,411.2 L60.2,407.6 L61.2,404.1 L62.2,400.7 L63.2,397.4 L64.2,394.2 L65.2,391.1 L66.2,388.0 L67.2,384.9 L68.2,381.8 L69.2,378.7 L70.2,375.6 L71.2,372.6 L72.2,369.6 L73.3,366.6 L74.3,363.6 L75.3,360.6 L76.3,357.6 L77.3,354.7 L78.3,351.7 L79.3,348.7 L80.3,345.8 L81.3,342.9 L82.3,340.1 L83.3,337.3 L84.3,334.6 L85.3,331.8 L86.3,329.1 L87.3,326.5 L88.3,323.8 L89.3,321.1 L90.3,318.5 L91.3,315.9 L92.3,313.3 L93.3,310.7 L94.3,308.1 L95.3,305.6 L96.3,303.1 L97.3,300.5 L98.3,297.8 L99.3,295.2 L100.3,292.8 L101.3,290.4 L102.3,288.4 L103.3,286.6 L104.3,284.9 L105.3,283.4 L106.3,281.9 L107.4,280.5 L108.4,279.2 L109.4,277.9 L110.4,276.7 L111.4,275.4 L112.4,274.1 L113.4,272.9 L114.4,271.6 L115.4,270.4 L116.4,269.2 L117.4,268.0 L118.4,266.9 L119.4,265.8 L120.4,264.7 L121.4,263.6 L122.4,262.5 L123.4,261.5 L124.4,262.9 L125.4,264.3 L126.4,265.7 L127.4,267.2 L128.4,268.7 L129.4,270.2 L130.4,271.7 L131.4,273.3 L132.4,274.9 L133.4,276.6 L134.4,278.3 L135.4,280.2 L136.4,282.0 L137.4,283.9 L138.4,285.8 L139.4,287.7 L140.4,289.6 L141.4,291.4 L142.4,293.2 L143.4,294.9 L144.4,296.6 L145.4,298.1 L146.4,299.7 L147.4,301.2 L148.4,302.6 L149.4,304.1 L150.4,305.5 L151.4,306.9 L152.4,308.3 L153.4,309.6 L154.4,310.9 L155.4,312.2 L156.4,313.5 L157.4,314.8 L158.4,316.0 L159.4,317.2 L160.4,318.4 L161.4,319.6 L162.4,320.8 L163.4,321.9 L164.4,323.1 L165.4,324.2 L166.4,325.3 L167.4,326.4 L168.4,327.4 L169.4,328.5 L170.4,329.5 L171.4,330.5 L172.4,331.6 L173.4,332.6 L174.4,333.5 L175.4,334.4 L176.4,335.2 L177.4,336.0 L178.4,336.7 L179.4,337.4 L180.4,338.1 L181.4,338.8 L182.4,339.4 L183.4,340.0 L184.4,340.6 L185.4,341.2 L186.4,341.7 L187.4,342.3 L188.4,342.8 L189.4,343.3 L190.4,343.8 L191.4,344.2 L192.4,344.6 L193.4,345.0 L194.3,345.4 L195.3,345.8 L196.3,346.2 L197.3,346.6 L198.3,346.9 L199.3,347.2 L200.3,347.6 L201.3,347.9 L202.3,348.2 L203.3,348.5 L204.3,348.9 L205.3,349.2 L206.3,349.5 L207.3,349.8 L208.3,350.1 L209.3,350.4 L210.3,350.7 L211.3,351.0 L212.3,351.3 L213.3,351.6 L214.3,351.8 L215.3,352.1 L216.3,352.4 L217.3,352.6 L218.3,352.9 L219.3,353.1 L220.3,353.3 L221.3,353.6 L222.3,353.8 L223.3,354.0 L224.3,354.2 L225.3,354.4 L226.3,354.6 L227.3,354.8 L228.3,355.0 L229.3,355.2 L230.3,355.4 L231.3,355.6 L232.3,355.8 L233.3,356.0 L234.3,356.2 L235.3,356.4 L236.3,356.6 L237.3,356.8 L238.3,357.0 L239.3,357.2 L240.3,357.4 L241.3,357.6 L242.3,357.7 L243.3,357.9 L244.3,358.0 L245.3,358.2 L246.3,358.3 L247.3,358.5 L248.3,358.6 L249.3,358.8 L250.3,358.9 L251.3,359.1 L252.3,359.2 L253.3,359.4 L254.3,359.5 L255.3,359.7 L256.3,359.9 L257.3,360.0 L258.3,360.2 L259.3,360.3 L260.3,360.5 L261.3,360.7 L262.3,360.8 L263.3,361.0 L264.3,362.1 L265.3,363.2 L266.3,364.4 L267.3,365.5 L268.3,366.6 L269.3,367.8 L270.3,368.9 L271.3,370.1 L272.3,371.2 L273.3,372.4 L274.3,373.6 L275.3,374.9 L276.3,376.1 L277.3,377.3 L278.3,378.5 L279.3,379.7 L280.3,380.7 L281.2,381.7 L282.2,382.7 L283.2,383.6 L284.2,384.4 L285.2,385.3 L286.2,386.1 L287.2,386.9 L288.2,387.6 L289.2,388.4 L290.2,389.2 L291.2,389.9 L292.2,390.6 L293.2,391.3 L294.2,392.0 L295.2,392.7 L296.2,393.4 L297.2,394.1 L298.2,394.7 L299.2,395.4 L300.2,396.0 L301.2,396.7 L302.2,397.3 L303.2,397.9 L304.2,398.5 L305.2,399.1 L306.2,399.7 L307.2,400.3 L308.2,400.9 L309.2,401.4 L310.2,402.0 L311.2,402.5 L312.2,403.1 L313.2,403.6 L314.2,404.1 L315.2,404.7 L316.2,405.2 L317.1,405.7 L318.1,406.2 L319.1,406.7 L320.1,407.1 L321.1,407.6 L322.1,408.1 L323.1,408.5 L324.1,409.0 L325.1,409.5 L326.1,409.9 L327.1,410.3 L328.1,410.8 L329.1,411.2 L330.1,411.5 L331.1,411.9 L332.1,412.2 L333.1,412.5 L334.1,412.8 L335.1,413.1 L336.1,413.3 L337.1,413.6 L338.1,413.8 L339.1,414.1 L340.1,414.3 L341.1,414.5 L342.1,414.8 L343.1,415.0 L344.1,415.2 L345.1,415.4 L346.1,415.6 L347.1,415.8 L348.1,416.0 L349.1,416.2 L350.1,416.4 L351.1,416.6 L352.1,416.8 L353.0,416.9 L354.0,417.1 L355.0,417.3 L356.0,417.4 L357.0,417.6 L358.0,417.7 L359.0,417.9 L360.0,418.0 L361.0,418.2 L362.0,418.3 L363.0,418.4 L364.0,418.5 L365.0,418.6 L366.0,418.7 L367.0,418.8 L368.0,418.9 L369.0,419.0 L370.0,419.0 L371.0,419.1 L372.0,419.2 L373.0,419.2 L374.0,419.3 L375.0,419.4 L376.0,419.4 L377.0,419.5 L378.0,419.5 L379.0,419.6 L380.0,419.6 L381.0,419.7 L382.0,419.7 L383.0,419.8 L384.0,419.8 L385.0,419.9 L386.0,419.9 L387.0,420.0 L388.0,420.1 L388.9,420.1 L389.9,420.2 L390.9,420.2 L391.9,420.3 L392.9,420.4 L393.9,420.4 L394.9,420.5 L395.9,420.6 L396.9,420.7 L397.9,420.8 L398.9,420.9 L399.9,421.0 L400.9,421.2 L401.9,421.4 L402.9,421.6 L403.9,421.8 L404.9,422.1 L405.9,422.3 L406.9,422.7 L407.9,423.1 L408.9,423.5 L409.9,423.9 L410.9,424.3 L411.9,424.7 L412.9,425.1 L413.9,425.5 L415.0,425.9 L416.0,426.3 L417.0,426.6 L418.0,427.0 L419.0,427.4 L420.0,427.8 L421.0,428.1 L422.0,428.5 L423.0,428.8 L424.0,429.2 L425.0,429.5 L426.0,429.9 L427.0,430.2 L428.0,430.5 L429.0,430.9 L430.0,431.2 L431.0,431.5 L432.0,431.8 L433.1,432.1 L434.1,432.4 L435.1,432.6 L436.1,432.9 L437.1,433.1 L438.1,433.4 L439.1,433.6 L440.1,433.9 L441.1,434.1 L442.1,434.4 L443.1,434.6 L444.1,434.8 L445.1,435.0 L446.1,435.2 L447.1,435.4 L448.1,435.7 L449.1,435.9 L450.2,436.1 L451.2,436.3 L452.2,436.4 L453.2,436.6 L454.2,436.8 L455.2,436.9 L456.2,437.0 L457.2,437.2 L458.2,437.3 L459.2,437.4 L460.2,437.5 L461.2,437.6 L462.2,437.7 L463.2,437.7 L464.2,437.8 L465.2,437.9 L466.2,438.0 L467.2,438.0 L468.3,438.1 L469.3,438.1 L470.3,438.2 L471.3,438.2 L472.3,438.3 L473.3,438.3 L474.3,438.3 L475.3,438.4 L476.3,438.4" stroke-width="1.5" stroke-dasharray="4.8 3.6"/>
<path d="M55.2,426.3 L56.2,422.2 L57.2,418.1 L58.2,413.9 L59.2,409.7 L60.2,405.4 L61.2,401.2 L62.2,396.9 L63.2,392.5 L64.2,388.1 L65.2,383.6 L66.2,379.1 L67.2,374.6 L68.2,370.1 L69.2,365.7 L70.2,361.4 L71.2,357.1 L72.2,352.8 L73.2,348.5 L74.2,344.3 L75.2,340.1 L76.2,335.9 L77.2,331.7 L78.2,327.6 L79.2,323.5 L80.2,319.5 L81.2,315.4 L82.2,311.4 L83.2,307.4 L84.2,303.5 L85.2,299.6 L86.2,295.7 L87.2,291.8 L88.2,287.9 L89.2,283.9 L90.2,279.9 L91.2,275.9 L92.2,271.9 L93.2,267.8 L94.2,263.9 L95.2,260.0 L96.2,256.1 L97.2,252.2 L98.2,248.4 L99.2,244.9 L100.2,241.8 L101.2,239.0 L102.2,236.4 L103.2,233.9 L104.2,231.5 L105.2,229.0 L106.2,226.4 L107.2,223.9 L108.2,221.4 L109.2,218.9 L110.2,216.4 L111.2,214.0 L112.2,211.7 L113.2,209.4 L114.2,207.1 L115.2,204.8 L116.2,202.6 L117.2,200.2 L118.2,197.9 L119.2,195.5 L120.2,193.1 L121.2,190.7 L122.2,188.2 L123.2,185.8 L124.2,187.3 L125.2,188.7 L126.2,190.1 L127.2,191.5 L128.2,192.9 L129.2,194.3 L130.2,195.6 L131.2,197.0 L132.2,198.3 L133.2,199.6 L134.2,200.8 L135.2,202.1 L136.2,203.3 L137.2,204.5 L138.2,205.8 L139.2,207.0 L140.2,208.2 L141.2,209.3 L142.2,210.5 L143.2,211.6 L144.2,212.7 L145.2,213.8 L146.2,214.8 L147.2,215.9 L148.2,216.9 L149.2,217.8 L150.2,218.8 L151.2,219.7 L152.2,220.6 L153.2,221.5 L154.2,222.4 L155.2,223.2 L156.2,224.1 L157.2,224.9 L158.2,225.8 L159.1,226.6 L160.1,227.5 L161.1,228.3 L162.1,229.1 L163.1,229.9 L164.1,230.7 L165.1,231.5 L166.1,232.3 L167.1,233.1 L168.1,233.9 L169.1,234.7 L170.1,235.5 L171.1,236.3 L172.1,237.1 L173.1,237.9 L174.1,238.7 L175.1,239.6 L176.1,240.4 L177.1,241.2 L178.1,242.1 L179.1,242.9 L180.1,243.7 L181.1,244.5 L182.1,245.3 L183.1,246.0 L184.1,246.7 L185.1,247.4 L186.1,248.0 L187.1,248.7 L188.1,249.3 L189.1,249.9 L190.1,250.5 L191.1,251.1 L192.1,251.7 L193.1,252.3 L194.1,252.8 L195.1,253.4 L196.1,253.9 L197.1,254.5 L198.1,255.0 L199.1,255.5 L200.1,256.1 L201.1,256.6 L202.1,257.1 L203.1,257.6 L204.1,258.1 L205.1,258.6 L206.1,259.1 L207.1,259.5 L208.1,260.0 L209.1,260.4 L210.1,260.9 L211.1,261.3 L212.1,261.7 L213.1,262.1 L214.1,262.4 L215.1,262.8 L216.1,263.2 L217.1,263.5 L218.1,263.9 L219.1,264.3 L220.1,264.7 L221.1,265.1 L222.1,265.5 L223.1,265.9 L224.1,266.4 L225.1,266.9 L226.1,267.4 L227.1,267.8 L228.1,268.3 L229.1,268.8 L230.0,269.2 L231.0,269.7 L232.0,270.1 L233.0,270.4 L234.0,270.8 L235.0,271.1 L236.0,271.4 L237.0,271.8 L238.0,272.1 L239.0,272.4 L240.0,272.7 L241.0,272.9 L242.0,273.2 L243.0,273.5 L244.0,273.8 L245.0,274.1 L246.0,274.3 L247.0,274.6 L248.0,274.9 L249.0,275.1 L250.0,275.3 L251.0,275.6 L252.0,275.8 L253.0,276.1 L254.0,276.3 L255.0,276.6 L256.0,276.9 L257.0,277.1 L258.0,277.4 L259.0,277.7 L260.0,278.0 L261.0,278.4 L262.0,278.7 L263.0,279.0 L264.0,279.4 L265.0,279.7 L266.0,281.4 L267.0,283.0 L268.0,284.6 L269.0,286.2 L270.0,287.7 L271.0,289.2 L272.0,290.7 L273.0,292.1 L274.0,293.6 L275.0,295.0 L276.0,296.4 L277.0,297.8 L278.0,299.2 L279.0,300.5 L280.0,301.9 L281.0,303.2 L282.0,304.5 L283.0,305.8 L284.0,307.0 L285.0,308.3 L286.0,309.5 L287.0,310.7 L288.0,311.9 L289.0,313.1 L290.0,314.3 L291.0,315.4 L292.0,316.6 L293.0,317.7 L294.0,318.8 L295.0,319.9 L296.0,321.0 L297.0,322.1 L298.0,323.2 L299.0,324.3 L300.0,325.4 L301.0,326.4 L302.0,327.4 L303.0,328.5 L304.0,329.5 L305.0,330.4 L306.0,331.4 L307.0,332.4 L308.0,333.3 L309.0,334.2 L310.0,335.1 L311.0,336.0 L312.0,336.8 L313.0,337.7 L314.0,338.6 L315.0,339.4 L316.0,340.2 L317.0,341.1 L318.0,341.9 L319.0,342.7 L320.0,343.5 L321.0,344.3 L322.0,345.2 L323.0,346.0 L324.0,346.8 L325.0,347.6 L326.0,348.3 L327.0,349.1 L328.0,349.9 L329.0,350.7 L330.0,351.4 L331.0,352.2 L332.0,352.9 L333.0,353.7 L334.0,354.4 L335.0,355.1 L335.9,355.9 L336.9,356.6 L337.9,357.3 L338.9,358.0 L339.9,358.6 L340.9,359.3 L341.9,359.9 L342.9,360.5 L343.9,361.0 L344.9,361.6 L345.9,362.1 L346.9,362.6 L347.9,363.1 L348.9,363.5 L349.9,364.0 L350.9,364.5 L351.9,365.0 L352.9,365.4 L353.9,365.9 L354.9,366.4 L355.9,366.9 L356.9,367.3 L357.9,367.8 L358.9,368.3 L359.9,368.7 L360.9,369.2 L361.9,369.6 L362.9,370.1 L363.9,370.5 L364.9,370.9 L365.9,371.4 L366.9,371.8 L367.9,372.2 L368.9,372.6 L369.9,373.0 L370.9,373.4 L371.9,373.8 L372.9,374.2 L373.9,374.6 L374.9,375.0 L375.9,375.3 L376.9,375.7 L377.9,376.0 L378.9,376.4 L379.9,376.7 L380.9,377.1 L381.9,377.4 L382.9,377.7 L383.9,378.0 L384.9,378.3 L385.9,378.7 L386.9,379.0 L387.9,379.3 L388.9,379.6 L389.9,379.9 L390.9,380.2 L391.9,380.5 L392.9,380.8 L393.9,381.1 L394.9,381.4 L395.9,381.7 L396.9,382.0 L397.9,382.3 L398.9,382.7 L399.9,383.0 L400.9,383.4 L401.9,383.8 L402.9,384.1 L403.9,384.5 L404.9,384.9 L405.9,385.3 L406.9,386.3 L407.9,387.2 L408.9,388.2 L409.9,389.1 L410.9,390.0 L411.9,390.8 L412.9,391.6 L413.9,392.4 L415.0,393.2 L416.0,394.0 L417.0,394.8 L418.0,395.5 L419.0,396.3 L420.0,397.0 L421.0,397.6 L422.0,398.3 L423.0,398.9 L424.0,399.6 L425.0,400.2 L426.0,400.8 L427.0,401.3 L428.0,401.9 L429.0,402.5 L430.0,403.0 L431.0,403.5 L432.0,404.0 L433.1,404.5 L434.1,405.0 L435.1,405.4 L436.1,405.8 L437.1,406.3 L438.1,406.7 L439.1,407.1 L440.1,407.5 L441.1,407.9 L442.1,408.3 L443.1,408.6 L444.1,409.0 L445.1,409.4 L446.1,409.8 L447.1,410.1 L448.1,410.5 L449.1,410.9 L450.2,411.2 L451.2,411.6 L452.2,411.9 L453.2,412.3 L454.2,412.6 L455.2,413.0 L456.2,413.3 L457.2,413.7 L458.2,414.0 L459.2,414.4 L460.2,414.7 L461.2,415.1 L462.2,415.4 L463.2,415.7 L464.2,416.1 L465.2,416.4 L466.2,416.7 L467.2,417.1 L468.3,417.4 L469.3,417.7 L470.3,418.1 L471.3,418.4 L472.3,418.7 L473.3,419.0 L474.3,419.4 L475.3,419.7 L476.3,420.0" stroke-width="3.8" stroke-dasharray="4.65 3.702" stroke-dashoffset="4.45" stroke-linejoin="bevel"/>
<path d="M55.2,426.3 L56.2,420.9 L57.2,415.6 L58.2,410.3 L59.2,405.2 L60.2,400.2 L61.2,395.3 L62.2,390.6 L63.3,385.9 L64.3,381.4 L65.3,376.9 L66.3,372.4 L67.3,368.0 L68.3,363.6 L69.3,359.2 L70.3,354.9 L71.3,350.6 L72.3,346.3 L73.3,342.1 L74.3,337.9 L75.3,333.7 L76.3,329.5 L77.3,325.4 L78.4,321.3 L79.4,317.2 L80.4,313.1 L81.4,309.1 L82.4,305.1 L83.4,301.1 L84.4,297.2 L85.4,293.3 L86.4,289.3 L87.4,285.4 L88.4,281.6 L89.4,277.7 L90.4,273.8 L91.4,270.0 L92.4,266.2 L93.5,262.4 L94.5,258.7 L95.5,255.1 L96.5,251.5 L97.5,247.9 L98.5,244.3 L99.5,240.8 L100.5,237.3 L101.5,238.7 L102.5,240.0 L103.5,241.4 L104.5,242.6 L105.5,243.9 L106.5,245.1 L107.5,246.3 L108.6,247.4 L109.6,248.5 L110.6,249.6 L111.6,250.6 L112.6,251.6 L113.6,252.6 L114.6,253.6 L115.6,254.6 L116.6,255.5 L117.6,256.5 L118.6,257.4 L119.6,258.3 L120.6,259.3 L121.7,260.2 L122.7,261.1 L123.7,262.0 L124.7,262.9 L125.7,263.8 L126.7,264.7 L127.7,265.5 L128.7,266.4 L129.7,267.2 L130.7,268.0 L131.7,268.7 L132.7,269.5 L133.7,270.2 L134.7,270.9 L135.8,271.6 L136.8,272.3 L137.8,272.9 L138.8,273.5 L139.8,274.2 L140.8,274.8 L141.8,275.4 L142.8,276.0 L143.8,276.6 L144.8,277.2 L145.8,277.8 L146.8,278.4 L147.8,279.0 L148.8,279.5 L149.8,280.1 L150.9,280.7 L151.9,281.2 L152.9,281.8 L153.9,282.3 L154.9,282.9 L155.9,283.4 L156.9,283.9 L157.9,284.5 L158.9,285.0 L159.9,285.6 L160.9,286.1 L161.9,286.7 L162.9,287.2 L163.9,287.8 L165.0,288.3 L166.0,288.8 L167.0,289.4 L168.0,289.9 L169.0,290.4 L170.0,291.0 L171.0,291.5 L172.0,293.6 L173.0,295.7 L174.0,297.8 L175.0,299.8 L176.0,301.7 L177.0,303.6 L178.0,305.4 L179.0,307.2 L180.0,308.9 L181.0,310.5 L182.0,312.1 L183.0,313.7 L184.0,315.1 L185.0,316.6 L186.0,317.9 L187.0,319.3 L188.0,320.6 L189.0,321.9 L190.0,323.1 L191.0,324.3 L192.0,325.5 L193.0,326.7 L194.0,327.9 L195.0,329.0 L196.0,330.2 L197.0,331.3 L198.0,332.3 L199.0,333.4 L200.0,334.5 L201.0,335.5 L202.0,336.6 L203.0,337.6 L204.0,338.7 L205.0,339.7 L206.0,340.8 L207.0,341.8 L208.0,342.8 L209.0,343.9 L210.0,344.9 L211.0,345.9 L212.0,346.9 L213.0,348.0 L214.0,348.9 L215.0,349.9 L216.0,350.9 L217.0,351.9 L218.0,352.8 L219.0,353.8 L220.0,354.7 L221.0,355.6 L222.0,356.5 L223.0,357.3 L224.0,358.2 L225.0,359.1 L226.0,359.9 L227.0,360.7 L228.0,361.6 L229.0,362.4 L230.0,363.3 L231.0,364.1 L232.0,365.0 L233.0,365.8 L234.0,366.7 L235.0,367.6 L236.0,368.5 L237.0,369.4 L238.0,370.3 L239.0,371.2 L240.0,372.1 L241.0,373.0 L242.1,373.9 L243.1,374.8 L244.1,375.7 L245.1,376.6 L246.1,377.4 L247.1,378.2 L248.1,379.0 L249.1,379.7 L250.1,380.4 L251.1,381.1 L252.1,381.8 L253.1,382.4 L254.1,383.1 L255.1,383.7 L256.1,384.3 L257.1,384.9 L258.1,385.5 L259.1,386.0 L260.1,386.6 L261.1,387.1 L262.1,387.6 L263.1,388.1 L264.1,388.5 L265.1,389.0 L266.1,389.4 L267.1,389.9 L268.1,390.3 L269.1,390.7 L270.1,391.1 L271.1,391.5 L272.1,391.9 L273.1,392.3 L274.1,392.8 L275.1,393.2 L276.1,393.6 L277.1,394.0 L278.1,394.4 L279.1,394.8 L280.1,395.2 L281.1,395.6 L282.1,396.0 L283.1,396.4 L284.1,396.8 L285.1,397.2 L286.1,397.6 L287.1,397.9 L288.1,398.3 L289.1,398.6 L290.1,399.0 L291.1,399.3 L292.1,399.6 L293.1,399.9 L294.1,400.3 L295.1,400.6 L296.1,400.9 L297.1,401.3 L298.1,401.6 L299.1,402.0 L300.1,402.4 L301.1,402.7 L302.1,403.1 L303.1,403.4 L304.1,403.8 L305.1,404.2 L306.1,404.6 L307.1,405.0 L308.1,405.3 L309.1,405.7 L310.1,406.1 L311.1,406.5 L312.1,406.9 L313.1,407.4 L314.1,407.8 L315.1,408.2 L316.1,408.7 L317.1,409.1 L318.1,409.5 L319.1,409.9 L320.1,410.3 L321.1,410.7 L322.1,411.1 L323.1,411.5 L324.1,411.9 L325.1,412.2 L326.1,412.6 L327.1,413.0 L328.1,413.3 L329.1,413.7 L330.1,414.0 L331.1,414.4 L332.1,414.7 L333.1,415.1 L334.1,415.4 L335.1,415.7 L336.1,416.0 L337.1,416.4 L338.1,416.7 L339.1,417.0 L340.1,417.3 L341.1,417.6 L342.1,417.9 L343.1,418.3 L344.1,418.6 L345.1,418.9 L346.1,419.2 L347.1,419.5 L348.1,419.8 L349.1,420.1 L350.1,420.4 L351.1,420.6 L352.1,420.9 L353.2,421.2 L354.2,421.5 L355.2,421.8 L356.2,422.0 L357.2,422.3 L358.2,422.6 L359.2,422.8 L360.2,423.1 L361.2,423.4 L362.2,423.6 L363.2,423.9 L364.2,424.1 L365.2,424.3 L366.2,424.6 L367.2,424.8 L368.2,425.0 L369.2,425.2 L370.2,425.5 L371.2,425.7 L372.2,425.9 L373.2,426.1 L374.2,426.3 L375.2,426.5 L376.2,426.7 L377.2,426.8 L378.2,427.0 L379.2,427.2 L380.2,427.3 L381.2,427.5 L382.2,427.7 L383.2,427.8 L384.2,428.0 L385.2,428.1 L386.2,428.3 L387.2,428.4 L388.2,428.6 L389.2,428.7 L390.2,428.9 L391.2,429.0 L392.2,429.2 L393.2,429.3 L394.2,429.5 L395.2,429.6 L396.2,429.8 L397.2,430.0 L398.2,430.1 L399.2,430.3 L400.2,430.5 L401.2,430.7 L402.2,430.9 L403.2,431.1 L404.2,431.3 L405.2,431.5 L406.2,431.7 L407.2,431.9 L408.2,432.1 L409.2,432.3 L410.2,432.4 L411.2,432.6 L412.2,432.8 L413.2,432.9 L414.2,433.1 L415.2,433.2 L416.2,433.3 L417.2,433.5 L418.2,433.6 L419.2,433.8 L420.2,433.9 L421.2,434.0 L422.2,434.2 L423.2,434.3 L424.2,434.5 L425.2,434.7 L426.2,434.9 L427.2,435.0 L428.2,435.2 L429.2,435.4 L430.2,435.5 L431.2,435.7 L432.2,435.8 L433.2,436.0 L434.2,436.1 L435.2,436.2 L436.3,436.3 L437.3,436.4 L438.3,436.5 L439.3,436.6 L440.3,436.7 L441.3,436.8 L442.3,436.9 L443.3,437.0 L444.3,437.1 L445.3,437.2 L446.3,437.2 L447.3,437.3 L448.3,437.4 L449.3,437.4 L450.3,437.5 L451.3,437.6 L452.3,437.6 L453.3,437.7 L454.3,437.7 L455.3,437.8 L456.3,437.8 L457.3,437.9 L458.3,437.9 L459.3,437.9 L460.3,438.0 L461.3,438.0 L462.3,438.1 L463.3,438.1 L464.3,438.1 L465.3,438.2 L466.3,438.2 L467.3,438.2 L468.3,438.2 L469.3,438.3 L470.3,438.3 L471.3,438.3 L472.3,438.3 L473.3,438.3 L474.3,438.4 L475.3,438.4 L476.3,438.4" stroke-width="3.45"/>
</g>
<g stroke="#1c1c1c" stroke-width="1.35" fill="none">
<path d="M54.45,124.3 V443.0 H477"/>
<line x1="48.7" y1="443.0" x2="54.45" y2="443.0"/>
<line x1="48.7" y1="379.4" x2="54.45" y2="379.4"/>
<line x1="48.7" y1="315.8" x2="54.45" y2="315.8"/>
<line x1="48.7" y1="252.2" x2="54.45" y2="252.2"/>
<line x1="48.7" y1="188.6" x2="54.45" y2="188.6"/>
<line x1="48.7" y1="125.0" x2="54.45" y2="125.0"/>
<line x1="54.5" y1="443.0" x2="54.5" y2="448.2"/>
<line x1="124.8" y1="443.0" x2="124.8" y2="448.2"/>
<line x1="195.1" y1="443.0" x2="195.1" y2="448.2"/>
<line x1="265.4" y1="443.0" x2="265.4" y2="448.2"/>
<line x1="335.7" y1="443.0" x2="335.7" y2="448.2"/>
<line x1="406.1" y1="443.0" x2="406.1" y2="448.2"/>
<line x1="476.4" y1="443.0" x2="476.4" y2="448.2"/>
</g>
<g font-size="14.7">
<text transform="translate(41.3,448.1) scale(0.9930,1)" text-anchor="end">0</text>
<text transform="translate(41.3,384.5) scale(0.9930,1)" text-anchor="end">2</text>
<text transform="translate(41.3,320.9) scale(0.9930,1)" text-anchor="end">4</text>
<text transform="translate(41.3,257.3) scale(0.9930,1)" text-anchor="end">6</text>
<text transform="translate(41.3,193.7) scale(0.9930,1)" text-anchor="end">8</text>
<text transform="translate(41.3,130.1) scale(0.9930,1)" text-anchor="end">10</text>
<text transform="translate(54.5,466.1) scale(0.9930,1)" text-anchor="middle">0</text>
<text transform="translate(124.8,466.1) scale(0.9930,1)" text-anchor="middle">6</text>
<text transform="translate(195.1,466.1) scale(0.9930,1)" text-anchor="middle">12</text>
<text transform="translate(265.4,466.1) scale(0.9930,1)" text-anchor="middle">18</text>
<text transform="translate(335.7,466.1) scale(0.9930,1)" text-anchor="middle">24</text>
<text transform="translate(406.1,466.1) scale(0.9930,1)" text-anchor="middle">30</text>
<text transform="translate(476.4,466.1) scale(0.9930,1)" text-anchor="middle">36</text>
<text transform="translate(265.4,489.5) scale(0.9930,1)" text-anchor="middle">Time (h)</text>
<text transform="translate(10.7,284.2) rotate(-90) scale(0.9930,1)" text-anchor="middle">Predicted lidocaine plasma concentration (mg/L)</text>
<text transform="translate(259.8,10.4) scale(0.9930,1)" text-anchor="start">Threshold for toxicity</text>
<text transform="translate(259.8,28.3) scale(0.9930,1)" text-anchor="start">Median (old regimen)</text>
<text transform="translate(259.8,46.0) scale(0.9930,1)" text-anchor="start">10th/90th percentile (old regimen)</text>
<text transform="translate(259.8,63.9) scale(0.9930,1)" text-anchor="start">Median (new regimen)</text>
<text transform="translate(259.8,81.6) scale(0.9930,1)" text-anchor="start">10th/90th percentile (new regimen)</text>
</g>
<g stroke="#1c1c1c" fill="none">
<line x1="217" y1="5.6" x2="247" y2="5.6" stroke-width="1.4" stroke-dasharray="1.1 1.4"/>
<line x1="217" y1="23.3" x2="247" y2="23.3" stroke-width="3.8" stroke-dasharray="4.7 3.75"/>
<line x1="217" y1="41.2" x2="247" y2="41.2" stroke-width="1.4" stroke-dasharray="4.8 3.6"/>
<line x1="217" y1="58.9" x2="247" y2="58.9" stroke-width="3.8"/>
<line x1="217" y1="76.7" x2="247" y2="76.7" stroke-width="1.3"/>
</g>
</svg></body></html>
